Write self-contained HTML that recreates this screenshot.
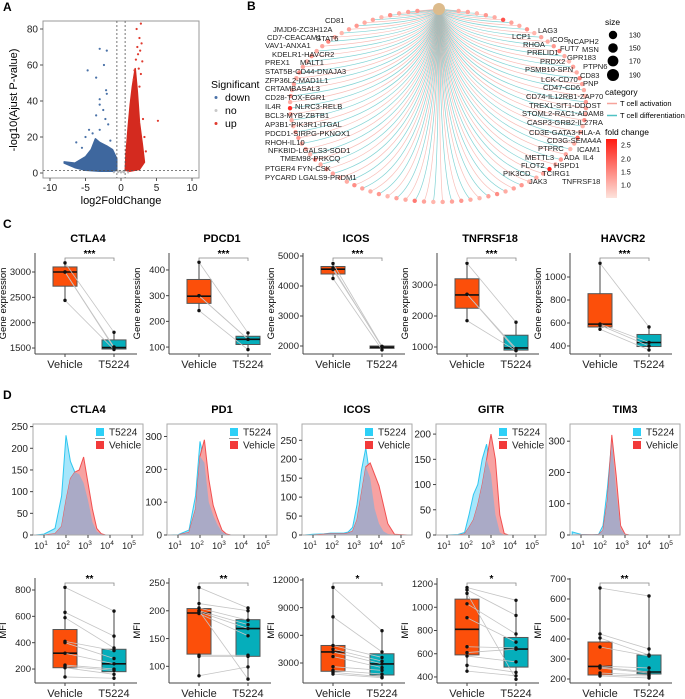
<!DOCTYPE html>
<html><head><meta charset="utf-8"><style>html,body{margin:0;padding:0;background:#fff}svg{display:block}</style></head>
<body>
<svg id="s" width="685" height="699" viewBox="0 0 685 699" font-family="Liberation Sans, sans-serif"></svg>
<script>
// ---------- DATA ----------
const volcanoTicksX = [-10,-5,0,5,10];
const volcanoTicksY = [0,20,40,60,80];
const downCloud = [[-8,5.5],[-6.5,3],[-5,1.5],[-3,1],[-1,1],[-0.6,1.6],[-0.6,8],[-1.2,13],[-2,15],[-3,17],[-3.6,19],[-4.2,13],[-5,9],[-6.5,5.5],[-8,6.2]];
const upCloud = [[0.6,1.6],[0.7,10],[1.0,25],[1.3,38],[1.6,48],[2.0,58],[2.3,45],[2.6,28],[3.0,16],[3.3,6],[2.6,2],[1.2,1]];
const downPoints = [[-3,69],[-2,68],[-2.4,60],[-4.7,57],[-3.5,53],[-2.1,46],[-2,44],[-3,41],[-3,38],[-2.5,35],[-3.5,32],[-1.8,27],[-4.5,24],[-3,24],[-6.3,17],[-5,20],[-4,22],[-2.2,30],[-1.5,18],[-5.5,14]];
const upPoints = [[2.8,83],[2.6,75],[2.9,72],[2.2,80],[2.7,68],[2.4,66],[3,62],[2.1,63],[2.5,58],[2.8,55],[1.9,57],[5.2,29],[2.3,70],[1.8,52],[2.6,48],[3.3,20],[3.1,30],[3.5,12]];
const noPoints = [[-0.4,0.5],[-0.2,1],[0,0.3],[0.2,0.8],[0.4,0.4],[-0.5,1.2],[0.5,1.1],[-1,0.4],[1,0.3]];
const foldChange = [1.1,1.2,1.0,1.3,1.1,2.0,1.2,1.1,1.4,1.0,1.2,1.1,1.3,1.6,1.1,1.0,1.2,1.1,1.5,1.2,1.1,1.0,1.3,1.2,1.1,1.4,1.0,1.2,1.8,1.1,1.0,1.2,1.3,1.1,2.5,1.2,1.1,1.0,1.3,1.2,1.1,1.4,1.2,1.0,1.1,1.3,1.2,1.1,1.0,1.2,1.6,1.1,1.2,1.0,1.3,1.1,1.2,1.4,1.1,1.0,1.2,1.3,1.1,1.5,1.0,1.2,1.1,1.3,1.2,1.0,1.1,1.2,2.4,1.1,1.3,1.0,1.2,1.1,1.4,1.2,1.0,1.3,1.1,1.2,1.5,1.1,1.0,1.2,1.3,1.1,1.2,1.0,1.4,1.1,1.2,1.3];
const genesLeft = [["CD81",325,23],["JMJD6-ZC3H12A",273,32],["CD7-CEACAM1",267,40],["STAT6",316,41],["VAV1-ANXA1",265,48],["KDELR1-HAVCR2",272,57],["PREX1",265,65],["MALT1",300,65],["STAT5B-CD44-DNAJA3",265,74],["ZFP36L2-MAD1L1",265,83],["CRTAMBASAL3",265,91],["CD28-TOX-EGR1",265,100],["IL4R",265,109],["NLRC3-RELB",295,109],["BCL3-MYB-ZBTB1",265,118],["AP3B1-PIK3R1-ITGAL",265,127],["PDCD1-SIRPG-PKNOX1",265,136],["RHOH-IL10",265,145],["NFKBID-LGALS3-SOD1",268,153],["TMEM98-PRKCQ",280,161],["PTGER4 FYN-CSK",265,171],["PYCARD LGALS9-PRDM1",265,180]];
const genesRight = [["LAG3",538,33],["LCP1",512,39],["ICOS",550,42],["RHOA",523,47],["NCAPH2",568,44],["PRELID1",527,55],["FUT7",560,51],["MSN",582,52],["PRDX2",540,64],["GPR183",567,60],["PSMB10-SPN",525,72],["PTPN6",583,69],["LCK-CD70",541,82],["CD83",580,78],["PNP",583,86],["CD47-CD6",543,90],["CD74-IL12RB1-ZAP70",526,99],["TREX1-SIT1-DDOST",529,108],["STOML2-RAC1-ADAM8",522,116],["CASP3-GRB2-IL27RA",527,125],["CD3E-GATA3-HLA-A",529,135],["CD3G-SEMA4A",547,143],["PTPRC",538,151],["ICAM1",577,152],["METTL3",525,160],["ADA",564,160],["IL4",583,160],["FLOT2",521,168],["HSPD1",554,168],["PIK3CD",503,176],["TCIRG1",542,176],["JAK3",529,184],["TNFRSF18",562,184]];
const cTitles = ["CTLA4","PDCD1","ICOS","TNFRSF18","HAVCR2"];
const cDomains = [[1382,3375],[73,466],[1733,5100],[774,4032],[330,1209]];
const cTicks = [[1500,2000,2500,3000],[100,200,300,400],[2000,3000,4000,5000],[1000,2000,3000],[400,600,800,1000]];
const cVehicle = [[3180,3000,2440,3000],[430,300,242,300],[4750,4600,4250,4550],[3700,2700,1850,2700],[1120,590,545,580]];
const cT5224 = [[1810,1500,1470,1520],[155,130,90,130],[1980,1960,1870,1990],[1800,950,880,900],[565,430,365,400]];
const cVehBox = [[2720,3000,3100],[270,298,363],[4400,4560,4650],[2250,2680,3200],[565,590,855]];
const cTBox = [[1480,1510,1660],[110,130,142],[1920,1960,2000],[900,970,1380],[395,430,500]];
const cStars = ["***","***","***","***","***"];
const histTitles = ["CTLA4","PD1","ICOS","GITR","TIM3"];
const histLogs = [0.6,1.0,1.5,1.8,2.0,2.2,2.4,2.6,2.8,3.0,3.2,3.4,3.6,3.8,4.0,4.2,4.4,4.7,5.3];
const histYmax = [256,338,293,220,355];
const histYTicks = [[0,50,100,150,200,250],[0,100,200,300],[0,50,100,150,200,250],[0,50,100,150,200],[0,100,200,300]];
const histT5224 = [
 [0,2,15,90,230,170,145,140,120,80,30,8,2,0,0,0,0,0,0],
 [0,1,15,120,285,220,100,60,30,10,2,0,0,0,0,0,0,0,0],
 [0,2,3,5,5,5,5,8,20,80,170,230,150,70,30,10,3,0,0],
 [0,0,1,5,40,80,100,150,180,120,40,5,0,0,0,0,0,0,0],
 [10,2,1,2,30,150,300,140,20,2,0,0,0,0,0,0,0,0,0]];
const histVehicle = [
 [0,0,3,20,80,130,145,150,180,120,60,15,3,0,0,0,0,0,0],
 [0,0,8,80,240,290,170,90,50,15,3,0,0,0,0,0,0,0,0],
 [0,0,2,3,3,3,3,5,10,40,110,180,190,160,130,80,30,2,0],
 [0,0,0,2,15,30,60,100,150,200,150,40,3,0,0,0,0,0,0],
 [0,1,1,1,15,110,320,190,30,3,0,0,0,0,0,0,0,0,0]];
const dDomains = [[94,891],[70,259],[830,12217],[348,1252],[180,705]];
const dTicks = [[200,400,600,800],[100,150,200,250],[3000,6000,9000,12000],[400,600,800,1000,1200],[200,300,400,500,600,700]];
const dVehicle = [[820,630,590,410,400,320,230,220,210,140],[242,213,205,200,198,195,120,118,83,200],[11200,8000,4900,4500,3700,2200,2000,1800,4200,2600],[1170,1150,1030,910,660,610,580,500,450,1120],[655,425,405,360,265,255,220,215,260,230]];
const dT5224 = [[640,450,360,340,280,240,200,190,160,130],[205,200,183,175,168,155,120,118,99,77],[6500,4200,3600,3200,2500,1800,1500,1400,2900,2200],[1060,930,770,700,650,640,530,440,410,380],[615,350,320,315,255,230,215,205,235,220]];
const dVehBox = [[210,320,500],[122,196,204],[2100,4200,4900],[590,810,1070],[220,263,385]];
const dTBox = [[180,240,350],[118,168,184],[1700,2900,4000],[485,640,740],[225,235,320]];
const dStars = ["**","**","*","*","**"];

// ---------- HELPERS ----------
const NS='http://www.w3.org/2000/svg';
const svg=document.getElementById('s');
function mk(tag,a,p){const e=document.createElementNS(NS,tag);for(const k in a)e.setAttribute(k,a[k]);(p||svg).appendChild(e);return e;}
function tx(str,a,p){const e=mk('text',a,p);e.textContent=str;return e;}
const ORANGE='#fc4f0a', TEAL='#05aebb';

[["A",3,11],["B",247,10],["C",3,228],["D",3,399]].forEach(l=>{
 const t=tx(l[0],{x:l[1],y:l[2],'font-size':12,'font-weight':'bold'});
 
 
});

// ---------- PANEL A ----------
(function(){
 const g=mk('g',{});
 
 
 const X=v=>121+v*7.1, Y=v=>173-v*1.8;
 const fr=mk('rect',{x:43,y:21,width:156,height:157,fill:'none',stroke:'#999','stroke-width':1},g);
 
 
 volcanoTicksX.forEach(v=>{
  mk('line',{x1:X(v),x2:X(v),y1:178,y2:181,stroke:'#555'},g);
  const t=tx(String(v),{x:X(v),y:191,'font-size':10,'text-anchor':'middle',fill:'#222'},g);
  
  
 });
 volcanoTicksY.forEach(v=>{
  mk('line',{x1:40,x2:43,y1:Y(v),y2:Y(v),stroke:'#555'},g);
  const t=tx(String(v),{x:38,y:Y(v)+3.5,'font-size':10,'text-anchor':'end',fill:'#222'},g);
  
  
 });
 const poly=(pts,c,n)=>{const p=mk('polygon',{points:pts.map(q=>X(q[0])+','+Y(q[1])).join(' '),fill:c,stroke:c,'stroke-width':1.5,'stroke-linejoin':'round'},g);
  
  };
 poly(downCloud,'#3e679e','down-genes-cloud');
 poly(upCloud,'#d42a1f','up-genes-cloud');
 const pts=(arr,c,n)=>arr.forEach(q=>{const p=mk('circle',{cx:X(q[0]),cy:Y(q[1]),r:1.1,fill:c},g);
  
  });
 pts(noPoints,'#bbbbbb','no-point');
 pts(downPoints,'#4a72a8','down-point');
 pts(upPoints,'#e03a2e','up-point');
 [[X(-0.58),21,X(-0.58),178],[X(0.58),21,X(0.58),178],[43,Y(1.3),199,Y(1.3)]].forEach(l=>{
  const d=mk('line',{x1:l[0],y1:l[1],x2:l[2],y2:l[3],stroke:'#555','stroke-dasharray':'2,2','stroke-width':0.8},g);
  
  
 });
 const xt=tx('log2FoldChange',{x:121,y:204,'font-size':11,'text-anchor':'middle'},g);
 
 
 const yt=tx('-log10(Ajust P-value)',{x:0,y:0,'font-size':11,'text-anchor':'middle',transform:'translate(17,100) rotate(-90)'},g);
 
 
 const lt=tx('Significant',{x:211,y:88,'font-size':10.5},g);
 
 
 [['down','#4a72a8',101],['no','#c8c8c8',114],['up','#e03a2e',127]].forEach(e=>{
  const c=mk('circle',{cx:216,cy:e[2]-3.5,r:1.5,fill:e[1]},g);
  
  
  const t=tx(e[0],{x:225,y:e[2],'font-size':10.5},g);
  
  
 });
})();

// ---------- PANEL B ----------
(function(){
 const g=mk('g',{});
 
 
 const cx=438,cy=106,rx=148,ry=96,topX=439,topY=9;
 const N=foldChange.length;
 const col=f=>{const t=Math.max(0,Math.min(1,(f-0.6)/2.0));const gg=Math.round(222-t*200),b=Math.round(212-t*195);return `rgb(255,${gg},${b})`;};
 const pos=[];
 for(let i=0;i<N;i++){const a=(8+i*(344/(N-1)))*Math.PI/180;pos.push([cx+rx*Math.sin(a),cy-ry*Math.cos(a)]);}
 pos.forEach((p,i)=>{
  const l=mk('path',{d:`M${topX},${topY} Q${topX+(p[0]-topX)*0.12},${p[1]*0.85} ${p[0]},${p[1]}`,fill:'none',stroke:i%2?'#f8aea6':'#62c8c9','stroke-width':0.7,opacity:0.8},g);
  
  
 });
 pos.forEach((p,i)=>{
  const c=mk('circle',{cx:p[0],cy:p[1],r:2.2,fill:col(foldChange[i])},g);
  
  
 });
 const hub=mk('circle',{cx:topX,cy:topY,r:6,fill:'#dcbb8c'},g);
 
 
 genesLeft.concat(genesRight).forEach(q=>{
  const t=tx(q[0],{x:q[1],y:q[2],'font-size':7.6,fill:'#222'},g);
  
  
 });
 const s=tx('size',{x:605,y:25,'font-size':8.5},g);
 
 
 [['130',35,4.2],['150',48,4.8],['170',61,5.4],['190',75,6]].forEach(e=>{
  const c=mk('circle',{cx:613,cy:e[1],r:e[2],fill:'#000'},g);
  
  
  const t=tx(e[0],{x:629,y:e[1]+2.5,'font-size':7},g);
  
  
 });
 const ct=tx('category',{x:605,y:95,'font-size':8.5},g);
 
 
 [['T cell activation','#f6a39b',106],['T cell differentiation','#4fc2c4',118]].forEach(e=>{
  const l=mk('line',{x1:607,x2:617,y1:e[2]-2.5,y2:e[2]-2.5,stroke:e[1],'stroke-width':1.5},g);
  
  
  const t=tx(e[0],{x:620,y:e[2],'font-size':7.5},g);
  
  
 });
 const ft=tx('fold change',{x:605,y:135,'font-size':8.5},g);
 
 
 const defs=mk('defs',{},g);
 const lg=mk('linearGradient',{id:'fg',x1:0,y1:0,x2:0,y2:1},defs);
 mk('stop',{offset:0,'stop-color':'#ff1a10'},lg);
 mk('stop',{offset:1,'stop-color':'#fde3dc'},lg);
 const gr=mk('rect',{x:606,y:139,width:11,height:59,fill:'url(#fg)'},g);
 
 
 [['2.5',145],['2.0',159],['1.5',172],['1.0',185]].forEach(e=>{
  const t=tx(e[0],{x:621,y:e[1]+2.5,'font-size':7},g);
  
  
 });
})();

// ---------- BOX PLOTS ----------
const axX=[35,169,303,437,570];
function boxPanel(i,yTop,yBot,dom,ticks,veh,tr,vb,tb,stars,ylab,title,prefix){
 const g=mk('g',{});
 
 
 const x0=axX[i], xv=x0+30, xt=x0+79;
 const Y=v=>yBot-(v-dom[0])/(dom[1]-dom[0])*(yBot-yTop);
 mk('line',{x1:x0,x2:x0,y1:yTop,y2:yBot,stroke:'#444'},g);
 mk('line',{x1:x0,x2:x0+102,y1:yBot,y2:yBot,stroke:'#444'},g);
 ticks.forEach(v=>{
  mk('line',{x1:x0-3,x2:x0,y1:Y(v),y2:Y(v),stroke:'#444'},g);
  const t=tx(String(v),{x:x0-4,y:Y(v)+3.2,'font-size':9.5,'text-anchor':'end',fill:'#222'},g);
  
  
 });
 [['Vehicle',xv],['T5224',xt]].forEach(e=>{
  mk('line',{x1:e[1],x2:e[1],y1:yBot,y2:yBot+3,stroke:'#444'},g);
  const t=tx(e[0],{x:e[1],y:yBot+14,'font-size':11,'text-anchor':'middle',fill:'#222'},g);
  
  
 });
 const yl=tx(ylab,{x:0,y:0,'font-size':9.5,'text-anchor':'middle',transform:`translate(${x0-29},${(yTop+yBot)/2}) rotate(-90)`},g);
 
 
 if(title){const tt=tx(title,{x:x0+53,y:yTop-11,'font-size':11,'font-weight':'bold','text-anchor':'middle'},g);
  
  }
 [[xv,veh,vb,ORANGE],[xt,tr,tb,TEAL]].forEach(e=>{
  const mn=Math.min(...e[1]), mx=Math.max(...e[1]);
  const w=mk('line',{x1:e[0],x2:e[0],y1:Y(mx),y2:Y(mn),stroke:'#444','stroke-width':1},g);
  
  
  const b=mk('rect',{x:e[0]-12,y:Y(e[2][2]),width:24,height:Y(e[2][0])-Y(e[2][2]),fill:e[3],stroke:'#555','stroke-width':1},g);
  
  
  const m=mk('line',{x1:e[0]-12,x2:e[0]+12,y1:Y(e[2][1]),y2:Y(e[2][1]),stroke:'#111','stroke-width':1.6},g);
  
  
 });
 veh.forEach((v,k)=>{
  const l=mk('line',{x1:xv,y1:Y(v),x2:xt,y2:Y(tr[k]),stroke:'#c4c4c4','stroke-width':0.8},g);
  
  
 });
 veh.forEach(v=>{const c=mk('circle',{cx:xv,cy:Y(v),r:1.7,fill:'#111'},g);
  
  });
 tr.forEach(v=>{const c=mk('circle',{cx:xt,cy:Y(v),r:1.7,fill:'#111'},g);
  
  });
 const by=yTop+5;
 const br=mk('path',{d:`M${xv},${by+3} V${by} H${xt} V${by+3}`,fill:'none',stroke:'#888','stroke-width':0.8},g);
 
 
 const st=tx(stars,{x:(xv+xt)/2,y:by-1,'font-size':10,'font-weight':'bold','text-anchor':'middle'},g);
 
 
}
for(let i=0;i<5;i++){
 boxPanel(i,253,354,cDomains[i],cTicks[i],cVehicle[i],cT5224[i],cVehBox[i],cTBox[i],cStars[i],'Gene expression',cTitles[i],'gene');
 boxPanel(i,578,683,dDomains[i],dTicks[i],dVehicle[i],dT5224[i],dVehBox[i],dTBox[i],dStars[i],'MFI',null,'mfi');
}

// ---------- HISTOGRAMS ----------
const hX=[33,167,302,436,570];
for(let i=0;i<5;i++){
 const g=mk('g',{});
 
 
 const L=hX[i], T=424, B=535, W=110;
 const X=lg=>L+11+(lg-1)*22, Y=v=>B-v/histYmax[i]*(B-T);
 const path=arr=>'M'+X(histLogs[0])+','+B+' '+arr.map((v,k)=>'L'+X(histLogs[k]).toFixed(1)+','+Y(v).toFixed(1)).join(' ')+' L'+X(histLogs[histLogs.length-1])+','+B+'Z';
 const ov=histT5224[i].map((v,k)=>Math.min(v,histVehicle[i][k]));
 const a=mk('path',{d:path(histT5224[i]),fill:'#a6e6fb',stroke:'#2fc7f0','stroke-width':1},g);
 
 
 const b=mk('path',{d:path(histVehicle[i]),fill:'#f7a2a2',stroke:'#f25050','stroke-width':1},g);
 
 
 const o=mk('path',{d:path(ov),fill:'#aaaac6',stroke:'none'},g);
 
 
 const fr=mk('rect',{x:L,y:T,width:W,height:B-T,fill:'none',stroke:'#aaa'},g);
 
 
 histYTicks[i].forEach(v=>{
  mk('line',{x1:L-3,x2:L,y1:Y(v),y2:Y(v),stroke:'#444'},g);
  const t=tx(String(v),{x:L-5,y:Y(v)+3.5,'font-size':10,'text-anchor':'end',fill:'#222'},g);
  
  
 });
 [1,2,3,4,5].forEach(p=>{
  mk('line',{x1:X(p),x2:X(p),y1:B,y2:B+3,stroke:'#444'},g);
  const t=tx('10',{x:X(p)-3,y:B+14,'font-size':9,'text-anchor':'middle',fill:'#222'},g);
  
  
  const s=mk('tspan',{dy:-4,'font-size':6.5},t); s.textContent=String(p);
 });
 const tt=tx(histTitles[i],{x:L+55,y:T-11,'font-size':11,'font-weight':'bold','text-anchor':'middle'},g);
 
 
 [['T5224','#2ed0f7',432],['Vehicle','#f23a3a',445]].forEach(e=>{
  const r=mk('rect',{x:L+63,y:e[2]-4,width:8,height:8,fill:e[1]},g);
  
  
  const t=tx(e[0],{x:L+76,y:e[2]+3.5,'font-size':10,fill:'#222'},g);
  
  
 });
 mk('line',{x1:L+62,x2:L+72,y1:438.5,y2:438.5,stroke:'#999','stroke-width':1},g);
}
</script>
</body></html>
